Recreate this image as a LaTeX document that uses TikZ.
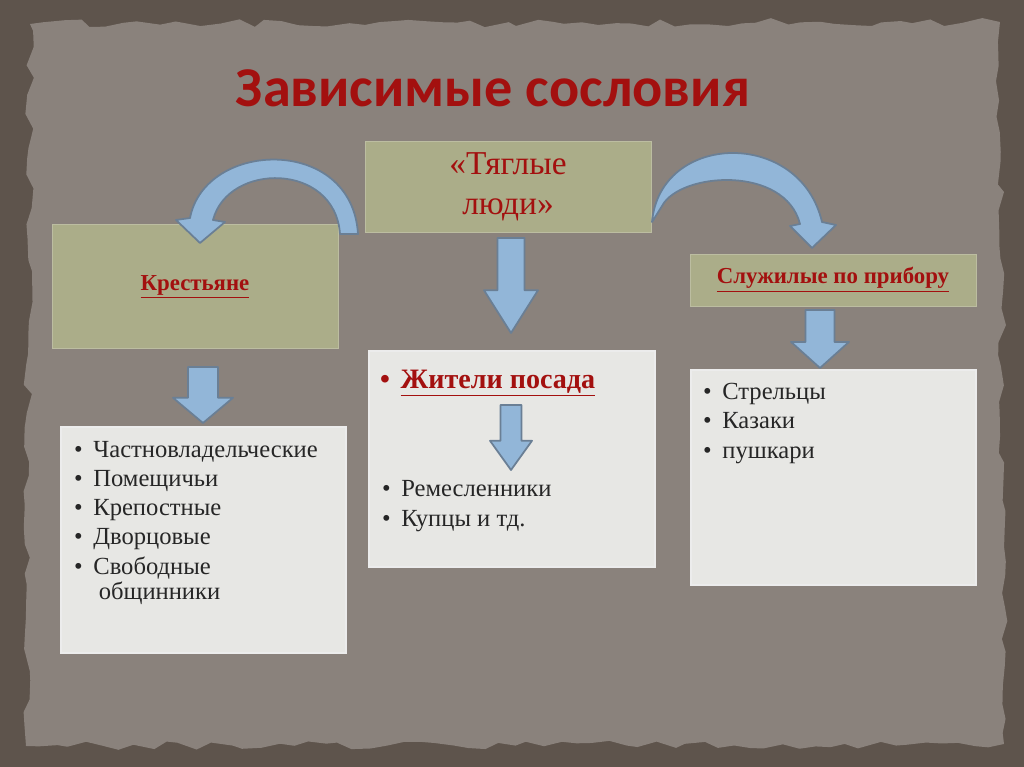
\documentclass[tikz,border=0pt]{standalone}
\usepackage{fontspec}
\setmainfont{Liberation Serif}
\newfontfamily\titlefont{Carlito}
\usetikzlibrary{decorations.pathmorphing}
\definecolor{outerbg}{HTML}{5E544C}
\definecolor{paper}{HTML}{8A827C}
\definecolor{olive}{HTML}{ABAD89}
\definecolor{listbg}{HTML}{E7E7E4}
\definecolor{darkred}{HTML}{A3100F}
\definecolor{arrowblue}{HTML}{92B6D8}
\definecolor{arrowedge}{HTML}{6A7F95}

\tikzset{
  headbox/.style={fill=olive, draw=olive!80!white},
  listbox/.style={fill=listbg, draw=white!85!gray, line width=1.5pt},
  blockarr/.style={fill=arrowblue, draw=arrowedge, line width=1pt, line join=round},
  item/.style={anchor=base west, font=\fontsize{14}{16}\selectfont, text=black!85},
  redlabel/.style={text=darkred, font=\bfseries\fontsize{13}{15}\selectfont},
}
% block arrow pointing down: x centre, top, bottom, width
\newcommand\downblock[4]{%
  \pgfmathsetmacro\hw{#4/2}\pgfmathsetmacro\sw{#4/4}%
  \pgfmathsetmacro\hy{#3-0.45*(#3-#2)}%
  \draw[blockarr] (#1-\sw,#2) -- (#1+\sw,#2) -- (#1+\sw,\hy) -- (#1+\hw,\hy)
    -- (#1,#3) -- (#1-\hw,\hy) -- (#1-\sw,\hy) -- cycle;}

\begin{document}
\begin{tikzpicture}[x=0.02cm, y=-0.02cm]

    % background
    \fill[outerbg] (0,0) rectangle (1024,767);
    \useasboundingbox (0,0) rectangle (1024,767);
    \fill[paper, decorate, decoration={random steps, segment length=9, amplitude=2.5}]
      (30,24) -- (1000,22) -- (1004,744) -- (26,746) -- cycle;

    % title
    \node (title) at (493,88) {\titlefont\bfseries\fontsize{32}{36}\selectfont\textcolor{darkred}{Зависимые сословия}};

    % top boxes
    \draw[headbox] (365,141) rectangle (651,232);
    \node[align=center, text=darkred, font=\fontsize{19}{23}\selectfont] (tyag) at (508,187) {«Тяглые\\люди»};
    \draw[headbox] (52,224) rectangle (338,348);
    \node[redlabel] (krest) at (195,287) {\underline{Крестьяне}};
    \draw[headbox] (690,254) rectangle (976,306);
    \node[redlabel] (sluzh) at (833,280) {\underline{Служилые по прибору}};

    % list boxes
    \draw[listbox] (61,427) rectangle (346,653);
    \draw[listbox] (369,351) rectangle (655,567);
    \draw[listbox] (691,370) rectangle (976,585);

    % curved arrows
    \draw[blockarr] (358,234) .. controls (352,135) and (205,140) .. (190,218)
      -- (176,220) -- (200,243) -- (225,222) -- (213,220)
      .. controls (228,162) and (335,162) .. (340,234) -- cycle;
    \draw[blockarr] (652,222) .. controls (660,132) and (800,128) .. (822,222)
      -- (836,225) -- (812,248) -- (790,226) -- (800,224)
      .. controls (785,165) and (680,172) .. (662,206) -- cycle;

    % straight arrows
    \downblock{511}{238}{333}{54}
    \downblock{203}{367}{423}{60}
    \downblock{511}{405}{470}{42}
    \downblock{820}{310}{368}{58}

    % lists
    \foreach \t [count=\i] in {Частновладельческие, Помещичьи, Крепостные, Дворцовые, Свободные}
      \node[item] at (68,{457+29.3*(\i-1)}) {•\hspace{6pt}\t};
    \node[item] at (82,599) {\hspace{6pt}общинники};

    \node[item, text=darkred, font=\bfseries\fontsize{16}{18}\selectfont] (posad) at (374,388) {•\hspace{6pt}\underline{Жители посада}};
    \node[item] at (376,496) {•\hspace{6pt}Ремесленники};
    \node[item] at (376,526) {•\hspace{6pt}Купцы и тд.};

    \foreach \t [count=\i] in {Стрельцы, Казаки, пушкари}
      \node[item] at (697,{399+29.5*(\i-1)}) {•\hspace{6pt}\t};

\end{tikzpicture}
\end{document}
